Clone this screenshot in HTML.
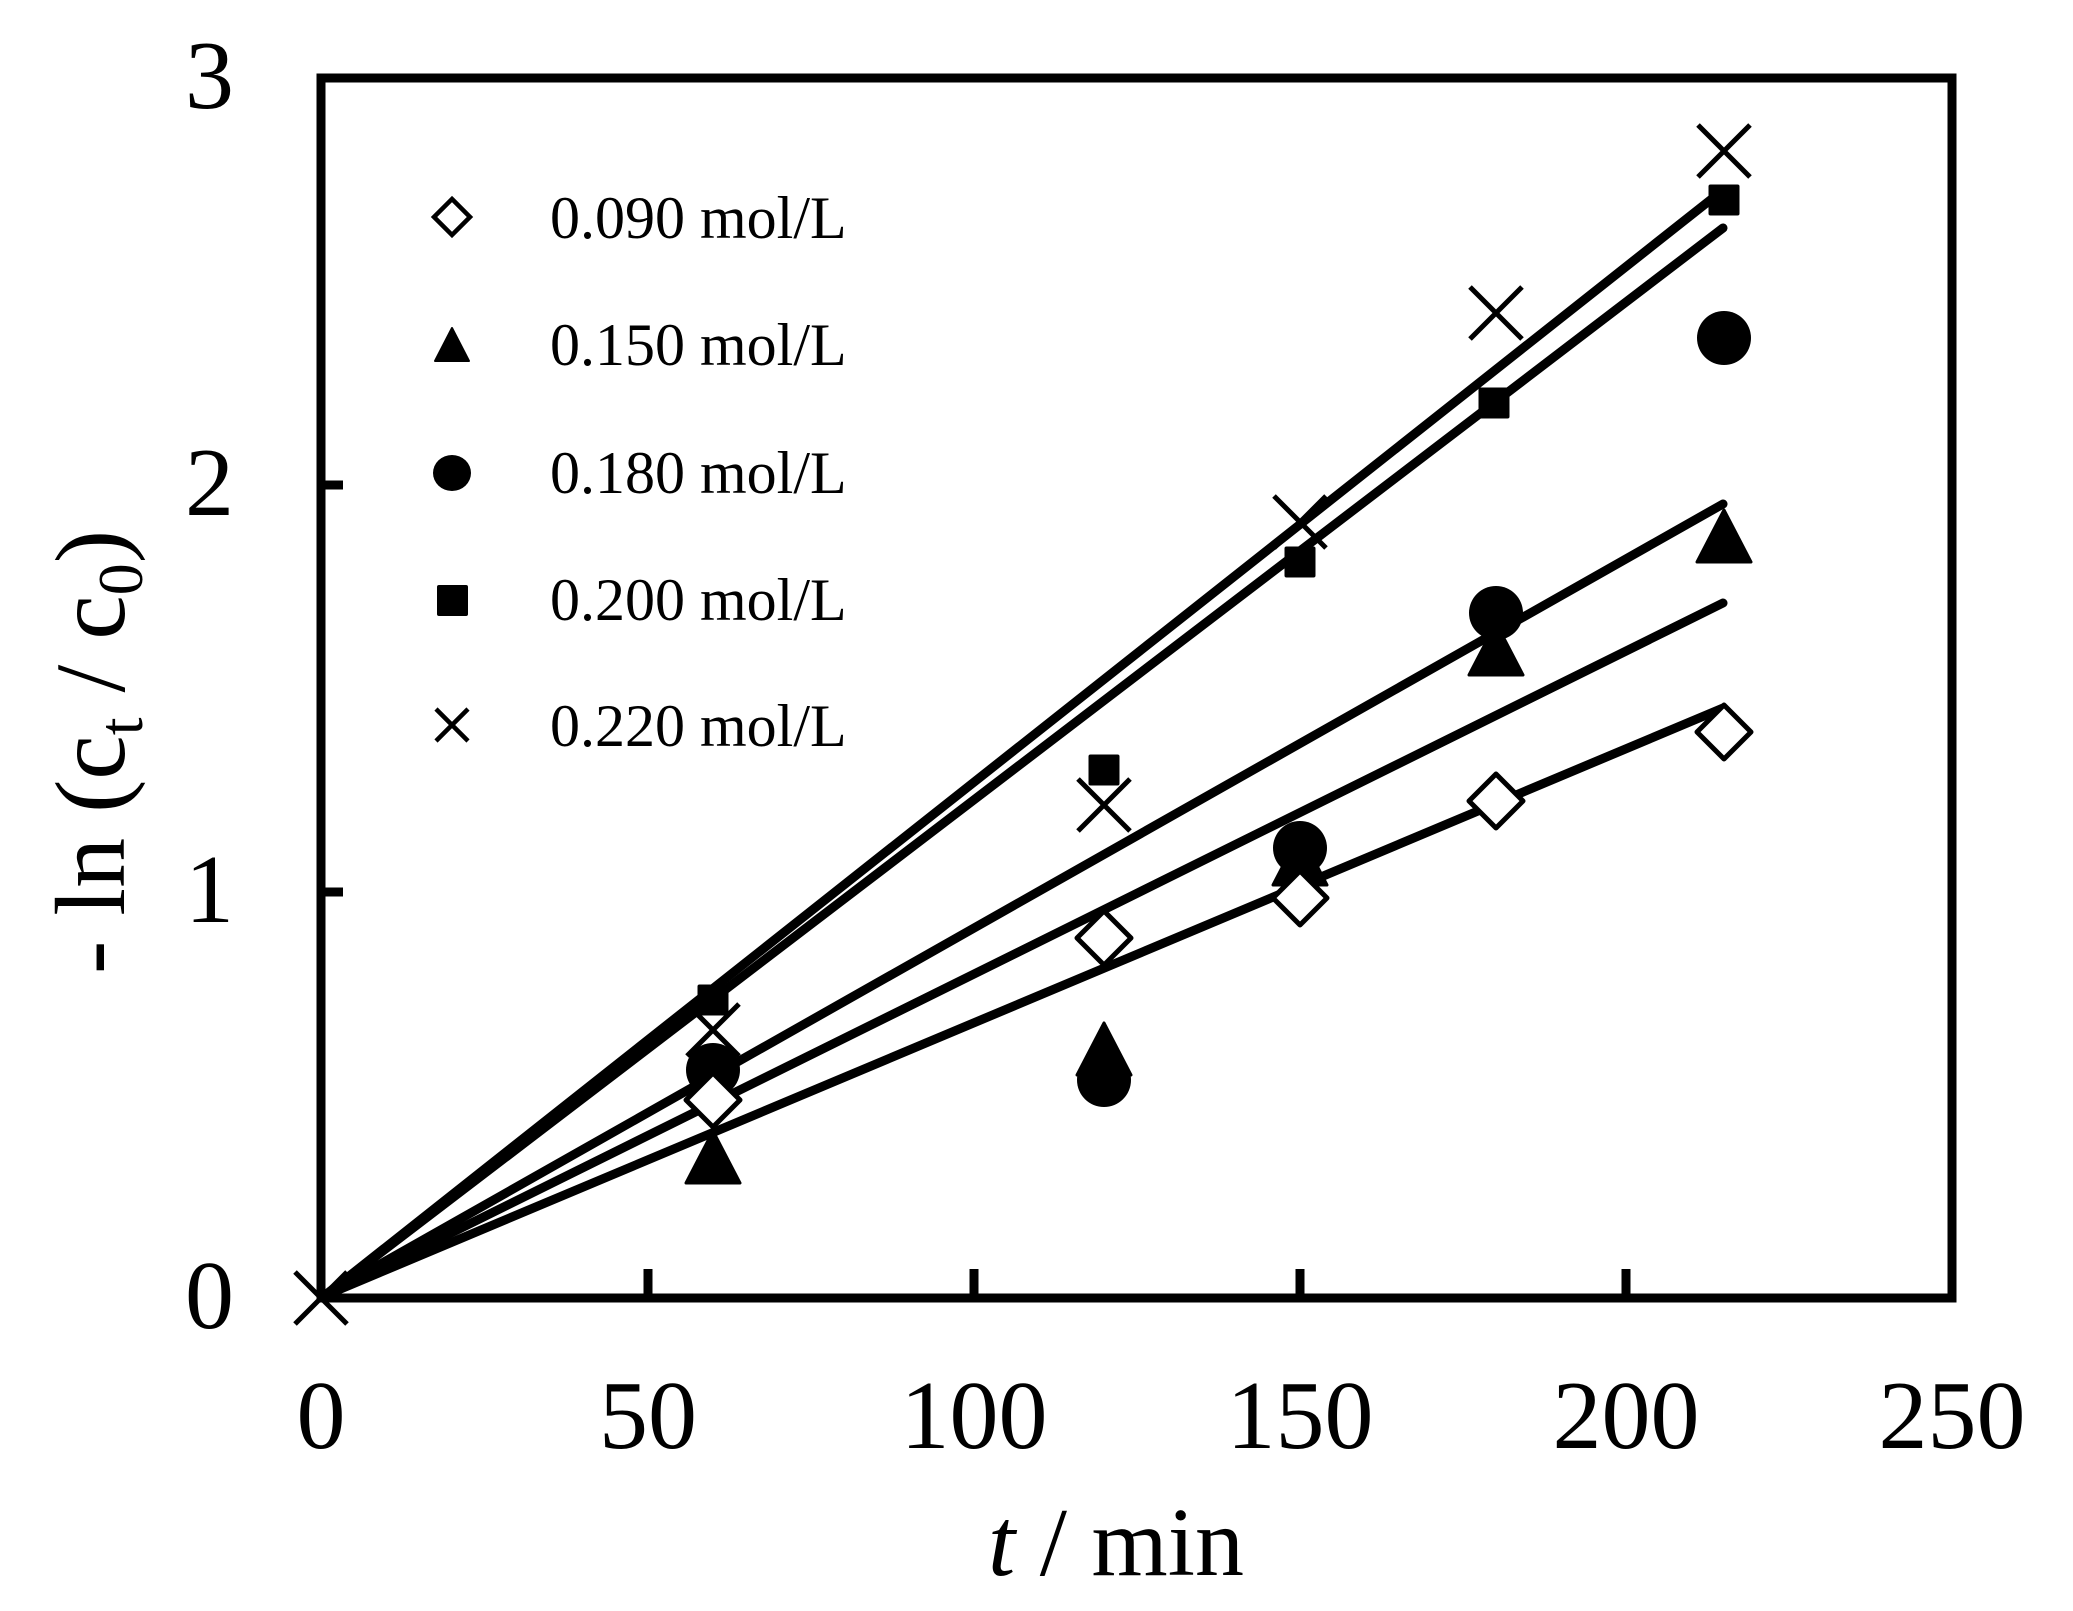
<!DOCTYPE html>
<html><head><meta charset="utf-8"><style>html,body{margin:0;padding:0;background:#fff}svg{display:block}</style></head>
<body>
<svg width="2073" height="1611" viewBox="0 0 2073 1611" xmlns="http://www.w3.org/2000/svg" font-family="Liberation Serif, serif">
<defs>
<g id="dia"><path d="M0,-27 L27,0 L0,27 L-27,0 Z" fill="#fff" stroke="#000" stroke-width="5" stroke-linejoin="round"/></g>
<g id="tri"><path d="M0,-27 L27,25 L-27,25 Z" fill="#000" stroke="#000" stroke-width="3" stroke-linejoin="round"/></g>
<g id="cir"><circle r="27" fill="#000"/></g>
<g id="sq"><rect x="-15.5" y="-15.5" width="31" height="31" rx="2" fill="#000"/></g>
<g id="crs"><path d="M-26,-26 L26,26 M26,-26 L-26,26" stroke="#000" stroke-width="5"/></g>
</defs>
<g stroke="#000" stroke-width="9" stroke-linecap="round" fill="none">
<line x1="324" y1="1296" x2="1723" y2="190"/>
<line x1="324" y1="1296" x2="1723" y2="228"/>
<line x1="324" y1="1296" x2="1723" y2="504"/>
<line x1="324" y1="1296" x2="1723" y2="603"/>
<line x1="324" y1="1296" x2="1723" y2="708"/>
</g>
<rect x="321" y="78" width="1631" height="1220" fill="none" stroke="#000" stroke-width="9"/>
<g stroke="#000" stroke-width="9">
<line x1="321" y1="485" x2="343" y2="485"/>
<line x1="321" y1="892" x2="343" y2="892"/>
<line x1="648" y1="1298" x2="648" y2="1269"/>
<line x1="974" y1="1298" x2="974" y2="1269"/>
<line x1="1300" y1="1298" x2="1300" y2="1269"/>
<line x1="1626" y1="1298" x2="1626" y2="1269"/>
</g>
<use href="#tri" x="713" y="1158"/><use href="#tri" x="1104" y="1050"/><use href="#tri" x="1300" y="860"/><use href="#tri" x="1496" y="650"/><use href="#tri" x="1724" y="537"/>
<use href="#cir" x="713" y="1070"/><use href="#cir" x="1104" y="1080"/><use href="#cir" x="1300" y="848"/><use href="#cir" x="1496" y="613"/><use href="#cir" x="1724" y="338"/>
<use href="#dia" x="713" y="1100"/><use href="#dia" x="1104" y="938"/><use href="#dia" x="1300" y="898"/><use href="#dia" x="1496" y="801"/><use href="#dia" x="1724" y="732"/>
<use href="#sq" x="713" y="1000"/><use href="#sq" x="1104" y="770"/><use href="#sq" x="1300" y="562"/><use href="#sq" x="1494" y="403"/><use href="#sq" x="1724" y="200"/>
<use href="#crs" x="321" y="1298"/><use href="#crs" x="713" y="1030"/><use href="#crs" x="1104" y="805"/><use href="#crs" x="1300" y="522"/><use href="#crs" x="1496" y="313"/><use href="#crs" x="1724" y="151"/>
<path d="M452,199 L470,217 L452,235 L434,217 Z" fill="#fff" stroke="#000" stroke-width="4.5"/>
<path d="M452,328 L469,361 L435,361 Z" fill="#000" stroke="#000" stroke-width="2" stroke-linejoin="round"/>
<ellipse cx="452" cy="473" rx="19" ry="18" fill="#000"/>
<rect x="437" y="585" width="31" height="31" rx="2" fill="#000"/>
<path d="M436,709 L468,741 M468,709 L436,741" stroke="#000" stroke-width="4.5"/>
<g font-size="60" fill="#000">
<text x="550" y="238">0.090 mol/L</text>
<text x="550" y="365">0.150 mol/L</text>
<text x="550" y="493">0.180 mol/L</text>
<text x="550" y="620">0.200 mol/L</text>
<text x="550" y="746">0.220 mol/L</text>
</g>
<g font-size="98" fill="#000" text-anchor="end">
<text x="234" y="108">3</text>
<text x="234" y="515">2</text>
<text x="234" y="922">1</text>
<text x="234" y="1328">0</text>
</g>
<g font-size="98" fill="#000" text-anchor="middle">
<text x="321" y="1448">0</text>
<text x="648" y="1448">50</text>
<text x="974" y="1448">100</text>
<text x="1300" y="1448">150</text>
<text x="1626" y="1448">200</text>
<text x="1952" y="1448">250</text>
</g>
<text x="1116" y="1575" font-size="98" text-anchor="middle"><tspan font-style="italic">t</tspan> / min</text>
<text transform="translate(124,752) rotate(-90)" font-size="100" text-anchor="middle">- ln (c<tspan font-size="64" dy="18">t</tspan><tspan dy="-18"> / c</tspan><tspan font-size="64" dy="18">0</tspan><tspan dy="-18">)</tspan></text>
</svg>
</body></html>
